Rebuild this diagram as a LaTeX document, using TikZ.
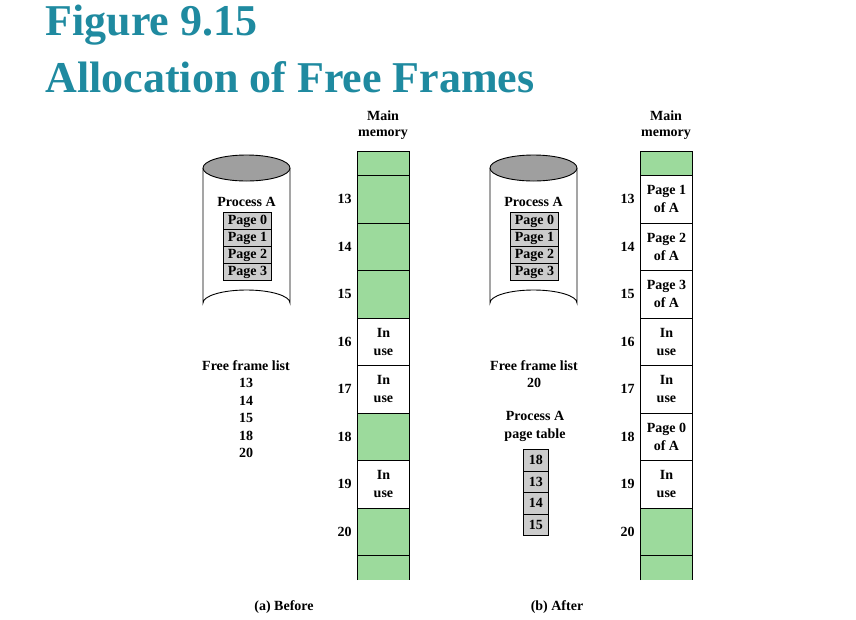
\documentclass[tikz,border=0pt]{standalone}
\usepackage{fontspec}
\setmainfont{Liberation Serif}
\definecolor{teal1}{HTML}{1F8AA0}
\definecolor{grn}{HTML}{9CDA9C}
\begin{document}
\begin{tikzpicture}[x=1pt,y=-1pt,line width=0.9pt,
  lbl/.style={font=\bfseries\fontsize{14}{16}\selectfont,align=center,inner sep=0},
  lst/.style={font=\bfseries\fontsize{14}{17.5}\selectfont,align=center,inner sep=0},
  slot/.style={draw,minimum width=52pt,minimum height=47.6pt,inner sep=0,anchor=north west,font=\bfseries\fontsize{14}{18}\selectfont,align=center},
  pg/.style={draw,fill=gray!40,minimum width=48pt,minimum height=17pt,inner sep=0,anchor=north west,font=\bfseries\fontsize{14}{15}\selectfont},
  pt/.style={draw,fill=gray!40,minimum width=25pt,minimum height=21.5pt,inner sep=0,anchor=north west,font=\bfseries\fontsize{14}{15}\selectfont}]
\useasboundingbox (0,0) rectangle (856,619);
\node[anchor=west,text=teal1,font=\bfseries\fontsize{44}{46}\selectfont,inner sep=0] (t1) at (45,25) {Figure 9.15};
\node[anchor=west,text=teal1,font=\bfseries\fontsize{44}{46}\selectfont,inner sep=0] (t2) at (45,77) {Allocation of Free Frames};
% memory columns
\foreach \X/\p in {357/a,640/b}{
  \node[lbl] (mm\p) at (\X+26,125) {Main\\memory};
  \fill[grn] (\X,151) rectangle (\X+52,175);
  \fill[grn] (\X,555) rectangle (\X+52,580);
  \draw (\X,580) -- (\X,151) -- (\X+52,151) -- (\X+52,580);
  \draw (\X,175) -- (\X+52,175);
  \draw (\X,555) -- (\X+52,555);
  \foreach \n [count=\i from 0] in {13,...,20}{
    \node[lbl,anchor=east] (n\p\n) at (\X-5,199+\i*47.5) {\n};
  }
}
% (a) slots
\node[slot,fill=grn] (a13) at (357,175) {};
\node[slot,fill=grn] (a14) at (357,222.5) {};
\node[slot,fill=grn] (a15) at (357,270) {};
\node[slot] (a16) at (357,317.5) {In\\use};
\node[slot] (a17) at (357,365) {In\\use};
\node[slot,fill=grn] (a18) at (357,412.5) {};
\node[slot] (a19) at (357,460) {In\\use};
\node[slot,fill=grn] (a20) at (357,507.5) {};
% (b) slots
\node[slot] (b13) at (640,175) {Page 1\\of A};
\node[slot] (b14) at (640,222.5) {Page 2\\of A};
\node[slot] (b15) at (640,270) {Page 3\\of A};
\node[slot] (b16) at (640,317.5) {In\\use};
\node[slot] (b17) at (640,365) {In\\use};
\node[slot] (b18) at (640,412.5) {Page 0\\of A};
\node[slot] (b19) at (640,460) {In\\use};
\node[slot,fill=grn] (b20) at (640,507.5) {};
% cylinders
\foreach \X/\p in {203/a,490/b}{
  \draw[fill=white] (\X,168) -- (\X,303) arc[start angle=180,end angle=360,x radius=43.5,y radius=13] -- (\X+87,168);
  \draw[fill=gray!75] (\X+43.5,168) ellipse[x radius=43.5,y radius=13];
  \node[lbl] (pa\p) at (\X+43.5,202) {Process A};
  \foreach \k in {0,...,3}{
    \node[pg] (p\p\k) at (\X+20,212+\k*17) {Page \k};
  }
}
\node[lst,anchor=north] (ffa) at (246,360) {Free frame list\\13\\14\\15\\18\\20};
\node[lst,anchor=north] (ffb) at (534,360) {Free frame list\\20};
\node[lst,anchor=north] (ptl) at (535,411) {Process A\\page table};
\foreach \v [count=\i from 0] in {18,13,14,15}{
  \node[pt] (t\v) at (523,449+\i*21.5) {\v};
}
\node[lbl] (capa) at (284,607) {(a) Before};
\node[lbl] (capb) at (557,607) {(b) After};
\end{tikzpicture}
\end{document}
